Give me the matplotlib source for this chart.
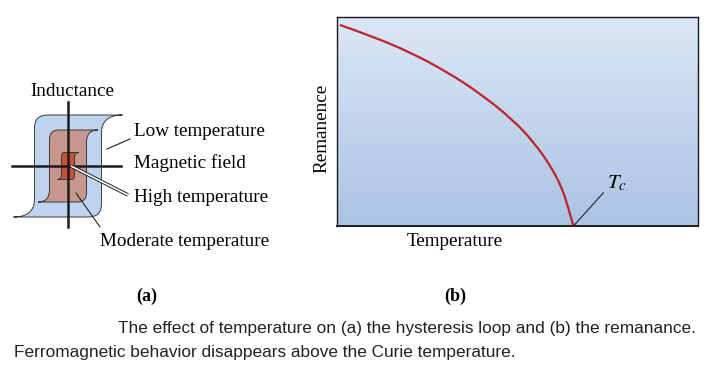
import numpy as np
import matplotlib
matplotlib.use("Agg")
import matplotlib.pyplot as plt
from matplotlib.path import Path
from matplotlib.patches import PathPatch
from matplotlib.colors import LinearSegmentedColormap

plt.rcParams['mathtext.fontset'] = 'stix'

# (a) hysteresis loops, in pixel-sized units around the axis crossing
loop_names = ["Low temperature", "Moderate temperature", "High temperature"]
loop_hc = [33.5, 18.5, 6.5]      # coercive field (vertical edge)
loop_hs = [54.5, 30.0, 11.0]     # saturation tip
loop_ms = [51.0, 36.0, 13.5]     # saturation level
loop_flare = [18.0, 12.0, 5.0]
loop_corner = [13.0, 9.0, 3.0]
loop_colors = ["#bdd3ee", "#c5978d", "#c8513c"]

# (b) remanence vs temperature
temp = [0.008, 0.091, 0.202, 0.304, 0.396, 0.488, 0.544, 0.590, 0.622, 0.640, 0.655]
reman = [0.962, 0.912, 0.832, 0.738, 0.635, 0.507, 0.403, 0.292, 0.188, 0.092, 0.0]
tc_temp = 0.655

serif = ['Liberation Serif', 'DejaVu Serif']
W, H = 723, 373
fig = plt.figure(figsize=(W / 100, H / 100), dpi=100)


def loop_path(hc, hs, ms, flare, r):
    verts = [(-hs, -ms), (-hc, -ms), (-hc, -ms + flare), (-hc, ms - r),
             (-hc, ms), (-hc + r, ms), (hs, ms), (hc, ms), (hc, ms - flare),
             (hc, -ms + r), (hc, -ms), (hc - r, -ms), (-hs, -ms)]
    codes = [Path.MOVETO, Path.CURVE3, Path.CURVE3, Path.LINETO,
             Path.CURVE3, Path.CURVE3, Path.LINETO, Path.CURVE3, Path.CURVE3,
             Path.LINETO, Path.CURVE3, Path.CURVE3, Path.CLOSEPOLY]
    return Path(verts, codes)


def smooth_path(xs, ys):
    # quadratic b-spline through the read points (points act as control points)
    verts = [(xs[0], ys[0])]
    codes = [Path.MOVETO]
    for i in range(1, len(xs) - 1):
        end = ((xs[i] + xs[i + 1]) / 2, (ys[i] + ys[i + 1]) / 2)
        if i == len(xs) - 2:
            end = (xs[-1], ys[-1])
        verts += [(xs[i], ys[i]), end]
        codes += [Path.CURVE3, Path.CURVE3]
    return Path(verts, codes)


# PANEL (a)
ax_a = fig.add_axes([0, (H - 260) / H, 300 / W, 180 / H])
ax_a.set_xlim(-68, 232)
ax_a.set_ylim(-94, 86)
ax_a.axis('off')

for i in range(len(loop_names)):
    p = loop_path(loop_hc[i], loop_hs[i], loop_ms[i], loop_flare[i], loop_corner[i])
    ax_a.add_patch(PathPatch(p, facecolor=loop_colors[i], edgecolor='#3a3a3a', lw=0.7, zorder=2 + i))

ax_a.plot([0, 0], [-61, 64], color='#1a1a1a', lw=1.8, zorder=6)
ax_a.plot([-56, 53], [0, 0], color='#1a1a1a', lw=1.8, zorder=6)

# leader lines
ax_a.plot([39, 62], [17, 27], color='#222222', lw=0.8, zorder=7)
ax_a.plot([8, 32], [-27, -61], color='#222222', lw=0.8, zorder=7)
ax_a.plot([3, 60], [0, -29], color='#222222', lw=2.6, zorder=7, solid_capstyle='butt')
ax_a.plot([3, 60], [0, -29], color='white', lw=1.2, zorder=8, solid_capstyle='butt')

fs = 13.8
ax_a.text(4, 74, "Inductance", ha='center', va='center', fontsize=fs, family=serif)
ax_a.text(66, 35, "Low temperature", ha='left', va='center', fontsize=fs, family=serif)
ax_a.text(66, 3, "Magnetic field", ha='left', va='center', fontsize=fs, family=serif)
ax_a.text(66, -31, "High temperature", ha='left', va='center', fontsize=fs, family=serif)
ax_a.text(32, -75, "Moderate temperature", ha='left', va='center', fontsize=fs, family=serif)

# PANEL (b)
ax_b = fig.add_axes([337 / W, (H - 226) / H, 361 / W, 209 / H])
grad_cmap = LinearSegmentedColormap.from_list('bg', ['#abc3e4', '#dbe7f6'])
ax_b.imshow(np.linspace(0, 1, 256).reshape(-1, 1), cmap=grad_cmap, origin='lower',
            extent=[0, 1, 0, 1], aspect='auto', zorder=0)
ax_b.set_xlim(0, 1)
ax_b.set_ylim(0, 1)
ax_b.set_xticks([])
ax_b.set_yticks([])
for s in ax_b.spines.values():
    s.set_color('#1a1a1a')
    s.set_linewidth(1.0)
ax_b.spines['bottom'].set_linewidth(1.4)

ax_b.add_patch(PathPatch(smooth_path(temp, reman), facecolor='none',
                         edgecolor='#c0232b', lw=1.6, zorder=3))
ax_b.plot([tc_temp, 0.738], [0.0, 0.159], color='#222222', lw=0.8, zorder=3)
ax_b.text(0.748, 0.205, r'$T_c$', ha='left', va='center', fontsize=15, zorder=4)

fig.text(322 / W, 1 - 128 / H, "Remanence", rotation=90, ha='center', va='center',
         fontsize=fs, family=serif)
fig.text(455 / W, 1 - 241 / H, "Temperature", ha='center', va='center',
         fontsize=fs, family=serif)

fig.text(147 / W, 1 - 296 / H, "(a)", ha='center', va='center', fontsize=13,
         family=serif, weight='bold')
fig.text(455 / W, 1 - 296 / H, "(b)", ha='center', va='center', fontsize=13,
         family=serif, weight='bold')

cap = ['Liberation Sans Narrow', 'Liberation Sans', 'DejaVu Sans']
fig.text(118 / W, 1 - 328 / H,
         "The effect of temperature on (a) the hysteresis loop and (b) the remanance.",
         ha='left', va='center', fontsize=12.4, family=cap, color='#222222')
fig.text(14 / W, 1 - 352 / H,
         "Ferromagnetic behavior disappears above the Curie temperature.",
         ha='left', va='center', fontsize=12.4, family=cap, color='#222222')

fig.savefig("out.png", dpi=100)
